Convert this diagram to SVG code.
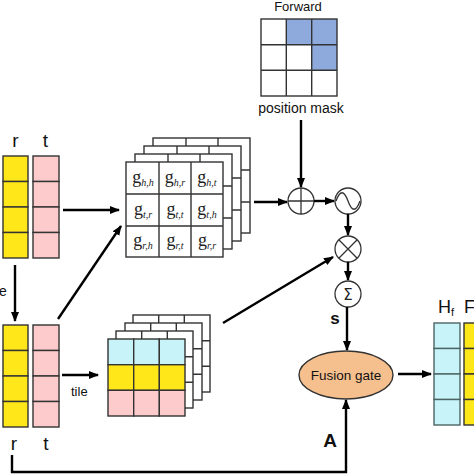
<svg xmlns="http://www.w3.org/2000/svg" xmlns:xlink="http://www.w3.org/1999/xlink" width="474" height="474" viewBox="0 0 474 474">
<style>
.lbl{font-family:"Liberation Sans",Arial,sans-serif;fill:#111}
.cell{stroke:#333;stroke-width:1.4}
.grid{fill:none;stroke:#333;stroke-width:1.4}
.lay{fill:#fff;stroke:#333;stroke-width:1.4}
.conn{fill:none;stroke:#000;stroke-width:2.4}
.op{fill:#fff;stroke:#333;stroke-width:1.3}
.opl{fill:none;stroke:#333;stroke-width:1.3}
.g{font-family:"Liberation Serif","Times New Roman",serif;fill:#222;font-size:18px}
.sub{font-size:10px;font-style:italic}
.y{fill:#FFE71A}
.p{fill:#FDCBCB}
.c{fill:#C8F3F8}
</style>
<defs>
<marker id="ah" viewBox="0 0 10 10" refX="9" refY="5" markerWidth="10" markerHeight="10" markerUnits="userSpaceOnUse" orient="auto">
<path d="M0,1 L10,5 L0,9 z" fill="#000"/>
</marker>
<g id="layerG">
<rect class="lay" x="0" y="0" width="97" height="95"/>
<path class="grid" d="M33,0 V95 M65,0 V95 M0,32 H97 M0,64 H97"/>
</g>
<g id="layerT">
<rect class="lay" x="0" y="0" width="77" height="77"/>
<path class="grid" d="M25.7,0 V77 M51.3,0 V77 M0,25.7 H77 M0,51.3 H77"/>
</g>
<g id="vecY">
<rect class="cell y" x="0" y="0" width="25" height="25.5"/>
<rect class="cell y" x="0" y="25.5" width="25" height="25.5"/>
<rect class="cell y" x="0" y="51" width="25" height="25.5"/>
<rect class="cell y" x="0" y="76.5" width="25" height="25.5"/>
</g>
<g id="vecP">
<rect class="cell p" x="0" y="0" width="26" height="25.5"/>
<rect class="cell p" x="0" y="25.5" width="26" height="25.5"/>
<rect class="cell p" x="0" y="51" width="26" height="25.5"/>
<rect class="cell p" x="0" y="76.5" width="26" height="25.5"/>
</g>
</defs>

<rect width="474" height="474" fill="#fff"/>

<g id="top-vectors">
<use href="#vecY" x="3" y="156"/>
<use href="#vecP" x="33" y="156"/>
<text class="lbl" x="15.5" y="147" font-size="19" text-anchor="middle">r</text>
<text class="lbl" x="45.5" y="147" font-size="19" text-anchor="middle">t</text>
</g>

<g id="bottom-vectors">
<use href="#vecY" x="3" y="325"/>
<use href="#vecP" x="33" y="325"/>
<text class="lbl" x="14" y="450" font-size="19" text-anchor="middle">r</text>
<text class="lbl" x="46" y="450" font-size="19" text-anchor="middle">t</text>
</g>

<g id="tile-label-left">
<text class="lbl" x="-1" y="296" font-size="14">e</text>
</g>

<g id="g-matrix-stack">
<use href="#layerG" x="153" y="138"/>
<use href="#layerG" x="144" y="146"/>
<use href="#layerG" x="135" y="154"/>
<use href="#layerG" x="126" y="162"/>
<g text-anchor="middle">
<text class="g" x="143" y="183">g<tspan class="sub" dy="3">h,h</tspan></text>
<text class="g" x="175" y="183">g<tspan class="sub" dy="3">h,r</tspan></text>
<text class="g" x="207" y="183">g<tspan class="sub" dy="3">h,t</tspan></text>
<text class="g" x="143" y="215">g<tspan class="sub" dy="3">t,r</tspan></text>
<text class="g" x="175" y="215">g<tspan class="sub" dy="3">t,t</tspan></text>
<text class="g" x="207" y="215">g<tspan class="sub" dy="3">t,h</tspan></text>
<text class="g" x="143" y="246">g<tspan class="sub" dy="3">r,h</tspan></text>
<text class="g" x="175" y="246">g<tspan class="sub" dy="3">r,t</tspan></text>
<text class="g" x="207" y="246">g<tspan class="sub" dy="3">r,r</tspan></text>
</g>
</g>

<g id="tile-stack">
<use href="#layerT" x="133" y="315"/>
<use href="#layerT" x="125" y="323"/>
<use href="#layerT" x="116" y="331"/>
<rect class="cell c" x="108" y="339" width="25.7" height="25.7"/>
<rect class="cell c" x="133.7" y="339" width="25.7" height="25.7"/>
<rect class="cell c" x="159.3" y="339" width="25.7" height="25.7"/>
<rect class="cell y" x="108" y="364.7" width="25.7" height="25.7"/>
<rect class="cell y" x="133.7" y="364.7" width="25.7" height="25.7"/>
<rect class="cell y" x="159.3" y="364.7" width="25.7" height="25.7"/>
<rect class="cell p" x="108" y="390.3" width="25.7" height="25.7"/>
<rect class="cell p" x="133.7" y="390.3" width="25.7" height="25.7"/>
<rect class="cell p" x="159.3" y="390.3" width="25.7" height="25.7"/>
<text class="lbl" x="71" y="396" font-size="13">tile</text>
</g>

<g id="position-mask">
<text class="lbl" x="298" y="11" font-size="13" text-anchor="middle">Forward</text>
<rect x="261" y="19" width="76" height="77" fill="#fff"/>
<rect x="286.3" y="19" width="25.3" height="25.7" fill="#8EAADC"/>
<rect x="311.7" y="19" width="25.3" height="25.7" fill="#8EAADC"/>
<rect x="311.7" y="44.7" width="25.3" height="25.7" fill="#8EAADC"/>
<rect class="grid" x="261" y="19" width="76" height="77"/>
<path class="grid" d="M286.3,19 V96 M311.7,19 V96 M261,44.7 H337 M261,70.3 H337"/>
<text class="lbl" x="301" y="113" font-size="14" text-anchor="middle">position mask</text>
</g>

<g id="plus-op">
<circle class="op" cx="301" cy="201" r="13"/>
<path class="opl" d="M288,201 H314 M301,188 V214"/>
</g>
<g id="sine-op">
<circle class="op" cx="348" cy="201" r="13"/>
<path class="opl" d="M336,201 C340,190 344,190 348,201 C352,212 356,212 360,201"/>
</g>
<g id="times-op">
<circle class="op" cx="348" cy="249" r="13"/>
<path class="opl" d="M338.8,239.8 L357.2,258.2 M357.2,239.8 L338.8,258.2"/>
</g>
<g id="sum-op">
<circle class="op" cx="348" cy="294" r="13"/>
<text x="348" y="300" font-family="'DejaVu Sans',sans-serif" font-size="15" fill="#222" text-anchor="middle">Σ</text>
</g>

<g id="fusion-gate">
<ellipse cx="346" cy="375" rx="47" ry="24" fill="#F6C08E" stroke="#333" stroke-width="1.4"/>
<text class="lbl" x="346" y="380" font-size="13.5" text-anchor="middle">Fusion gate</text>
</g>

<g id="output-vectors">
<rect class="cell c" x="434" y="323" width="26" height="25.5" style="stroke:#4d6464"/>
<rect class="cell c" x="434" y="348.5" width="26" height="25.5" style="stroke:#4d6464"/>
<rect class="cell c" x="434" y="374" width="26" height="25.5" style="stroke:#4d6464"/>
<rect class="cell c" x="434" y="399.5" width="26" height="25.5" style="stroke:#4d6464"/>
<rect class="cell y" x="464" y="323" width="26" height="25.5"/>
<rect class="cell y" x="464" y="348.5" width="26" height="25.5"/>
<rect class="cell y" x="464" y="374" width="26" height="25.5"/>
<rect class="cell y" x="464" y="399.5" width="26" height="25.5"/>
<text class="lbl" x="438" y="313" font-size="18">H<tspan font-size="11" dy="3">f</tspan></text>
<text class="lbl" x="464" y="313" font-size="18">F</text>
</g>

<g id="labels">
<text class="lbl" x="335" y="324" font-size="17" font-weight="bold" text-anchor="middle">s</text>
<text class="lbl" x="330" y="447" font-size="19" font-weight="bold" text-anchor="middle">A</text>
</g>

<g id="connectors">
<path class="conn" d="M63,210 L119,210" marker-end="url(#ah)"/>
<path class="conn" d="M58,319 L121,226" marker-end="url(#ah)"/>
<path class="conn" d="M15,265 L15,321" marker-end="url(#ah)"/>
<path class="conn" d="M62,375 L98,375" marker-end="url(#ah)"/>
<path class="conn" d="M254,202 L287,202" marker-end="url(#ah)"/>
<path class="conn" d="M301,120 L301,187" marker-end="url(#ah)"/>
<path class="conn" d="M314,201 L334,201" marker-end="url(#ah)"/>
<path class="conn" d="M348,214 L348,235" marker-end="url(#ah)"/>
<path class="conn" d="M223,323 L333,257" marker-end="url(#ah)"/>
<path class="conn" d="M348,262 L348,280" marker-end="url(#ah)"/>
<path class="conn" d="M347,307 L347,350" marker-end="url(#ah)"/>
<path class="conn" d="M398,374 L431,374" marker-end="url(#ah)"/>
<path class="conn" d="M12,455 L12,472 L346,472 L346,400" marker-end="url(#ah)"/>
</g>
</svg>
